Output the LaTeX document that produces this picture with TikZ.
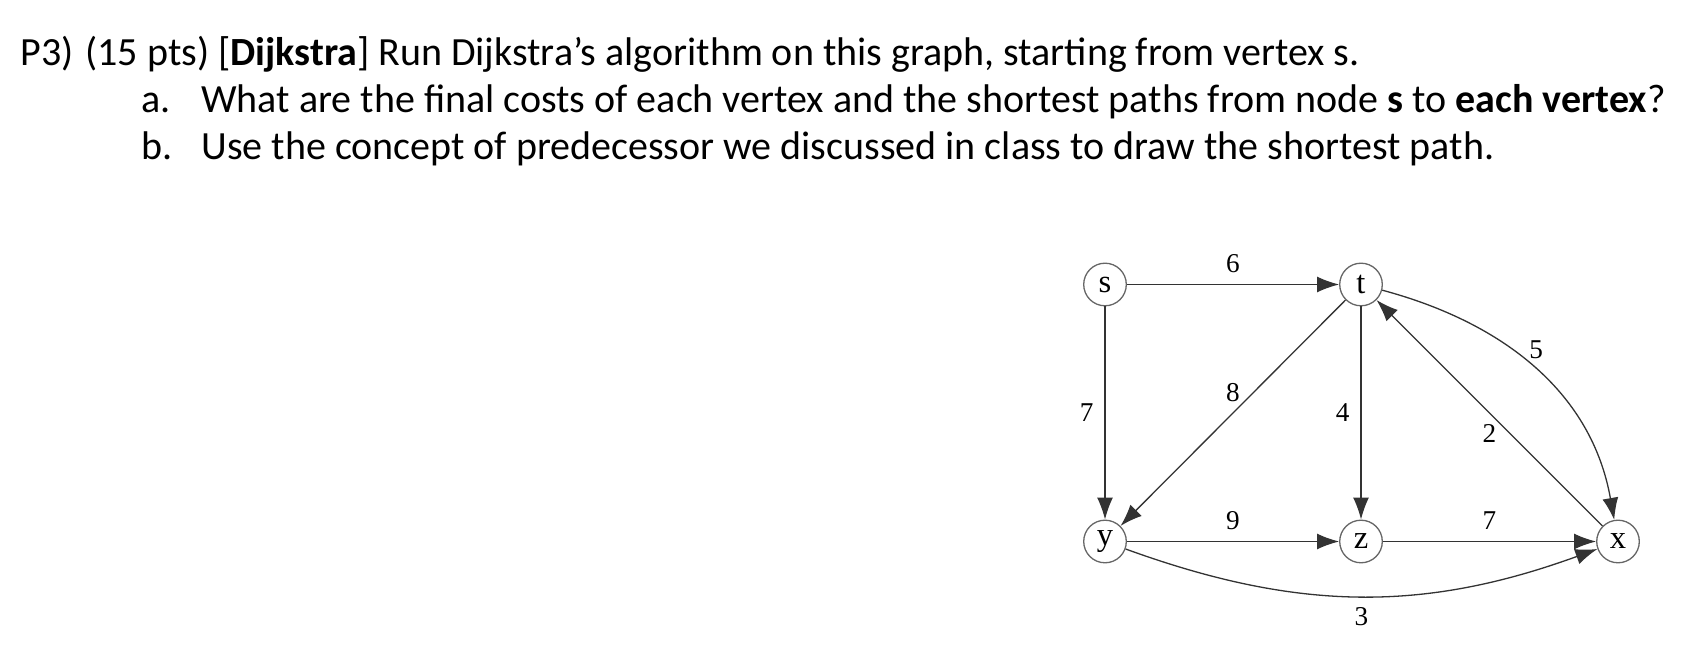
\documentclass[tikz,border=0pt]{standalone}
\usepackage{fontspec}
\setmainfont{Carlito}
\newfontfamily\graphfont{Liberation Serif}
\usetikzlibrary{arrows.meta}

\begin{document}
\begin{tikzpicture}[x=0.5pt,y=-0.5pt,
    edge/.style={draw=black!80,line width=0.65pt,>={Latex[length=11pt,width=8pt]}},
    v/.style={circle,draw=black!60,line width=0.65pt,minimum size=21.3pt,inner sep=0pt,font=\graphfont\fontsize{16.3}{18}\selectfont},
    w/.style={inner sep=5.5pt,font=\graphfont\fontsize{13.6}{15}\selectfont},
    line/.style={anchor=base west,inner sep=0pt,font=\fontsize{20}{24}\selectfont}]
    \useasboundingbox (0,0) rectangle (1696,672);
    % question text
    \node[line] (p3) at (20,66) {P3)\hspace{1.5pt} (15 pts) [\textbf{Dijkstra}] Run Dijkstra’s algorithm on this graph, starting from vertex s.};
    \node[line] (qa) at (141,113) {\makebox[30pt][l]{a.}What are the final costs of each vertex and the shortest paths from node \textbf{s} to \textbf{each vertex}?};
    \node[line] (qb) at (141,160) {\makebox[30pt][l]{b.}Use the concept of predecessor we discussed in class to draw the shortest path.};
    % vertices
    \node[v] (s) at (1105,284.5) {s};
    \node[v] (t) at (1361,284.5) {t};
    \node[v] (y) at (1105,541.5) {y};
    \node[v] (z) at (1361,541.5) {z};
    \node[v] (x) at (1618,541.5) {x};
    % edges
    \draw[edge,->] (s) -- node[w,above] {6} (t);
    \draw[edge,->] (s) -- node[w,left] {7} (y);
    \draw[edge,->] (t) -- node[w,above] {8} (y);
    \draw[edge,->] (t) -- node[w,left] {4} (z);
    \draw[edge,->] (x) -- node[w,below] {2} (t);
    \draw[edge,->] (t) to[out=-15,in=100] node[w,above] {5} (x);
    \draw[edge,->] (y) -- node[w,above] {9} (z);
    \draw[edge,->] (z) -- node[w,above] {7} (x);
    \draw[edge,->] (y) to[bend right=20] node[w,below] {3} (x);
\end{tikzpicture}
\end{document}
